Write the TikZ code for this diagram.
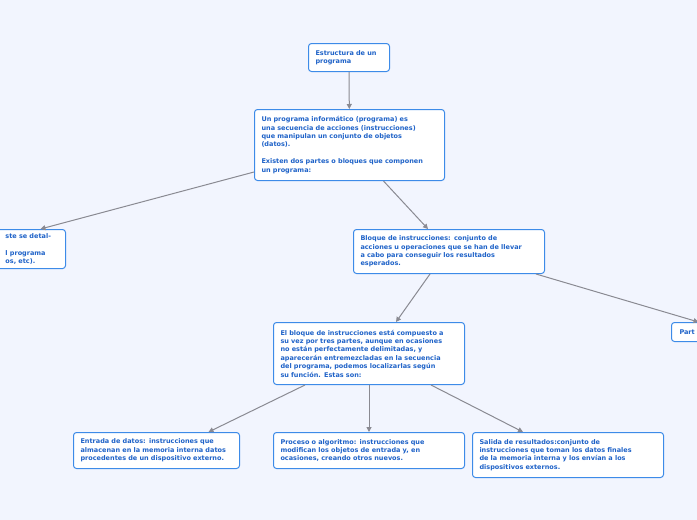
\documentclass[tikz,border=0pt]{standalone}
\usepackage{fontspec}
\setmainfont{DejaVu Sans}
\usetikzlibrary{arrows.meta}
\definecolor{bg}{HTML}{F2F5FE}
\definecolor{bd}{HTML}{3D8BE8}
\definecolor{tx}{HTML}{1E62C8}
\definecolor{ln}{HTML}{8A8A92}
\begin{document}
\begin{tikzpicture}[x=1pt,y=-1pt,
  box/.style={draw=bd,line width=1pt,fill=white,rounded corners=3pt,anchor=north west,align=left,
    inner xsep=7pt,inner ysep=4pt,font=\fontsize{6.5}{8.4}\selectfont\bfseries,text=tx},
  conn/.style={draw=ln,line width=1pt,-{Triangle[length=5pt,width=5pt]}}]
\fill[bg] (0,0) rectangle (697,520);
\clip (0,0) rectangle (697,520);
\node[box,minimum width=81pt,minimum height=28pt,text width=67pt] (n1) at (308,43) {Estructura de un\\programa};
\node[box,minimum width=190pt,minimum height=71pt,text width=176pt] (n2) at (254,109) {Un programa informático (programa) es\\una secuencia de acciones (instrucciones)\\que manipulan un conjunto de objetos\\(datos).\\[8.4pt]Existen dos partes o bloques que componen\\un programa:};
\node[box,minimum width=100pt,minimum height=36pt,text width=86pt,inner xsep=2pt] (n3) at (-35,229) {\hspace*{33pt}ste se detallan\\\hspace*{33pt}l programa\\\hspace*{33pt}os, etc).};
\node[box,minimum width=191pt,minimum height=44pt,text width=177pt] (n4) at (353,229) {Bloque de instrucciones: conjunto de\\acciones u operaciones que se han de llevar\\a cabo para conseguir los resultados\\esperados.};
\node[box,minimum width=191pt,minimum height=62pt,text width=177pt] (n5) at (273,322) {El bloque de instrucciones está compuesto a\\su vez por tres partes, aunque en ocasiones\\no están perfectamente delimitadas, y\\aparecerán entremezcladas en la secuencia\\del programa, podemos localizarlas según\\su función. Estas son:};
\node[box,minimum width=60pt,minimum height=19pt,text width=46pt,inner xsep=8pt] (n6) at (671,322) {Part};
\node[box,minimum width=166pt,minimum height=36pt,text width=152pt] (n7) at (73,432) {Entrada de datos: instrucciones que\\almacenan en la memoria interna datos\\procedentes de un dispositivo externo.};
\node[box,minimum width=191pt,minimum height=36pt,text width=177pt] (n8) at (273,432) {Proceso o algoritmo: instrucciones que\\modifican los objetos de entrada y, en\\ocasiones, creando otros nuevos.};
\node[box,minimum width=191pt,minimum height=45pt,text width=177pt] (n9) at (472,432) {Salida de resultados:conjunto de\\instrucciones que toman los datos finales\\de la memoria interna y los envían a los\\dispositivos externos.};
\draw[conn] (n1) -- (n2);
\draw[conn] (n2.south west) ++(0,-9) coordinate (a) -- ([xshift=25pt]n3.north);
\draw[conn] ([xshift=34pt]n2.south) -- ([xshift=-21pt]n4.north);
\draw[conn] ([xshift=-19pt]n4.south) -- ([xshift=27pt]n5.north);
\draw[conn] ([xshift=87pt]n4.south) -- ([xshift=-4pt]n6.north);
\draw[conn] ([xshift=-64pt]n5.south) -- ([xshift=52pt]n7.north);
\draw[conn] (n5) -- (n8);
\draw[conn] ([xshift=62pt]n5.south) -- ([xshift=-45pt]n9.north);
\end{tikzpicture}
\end{document}
